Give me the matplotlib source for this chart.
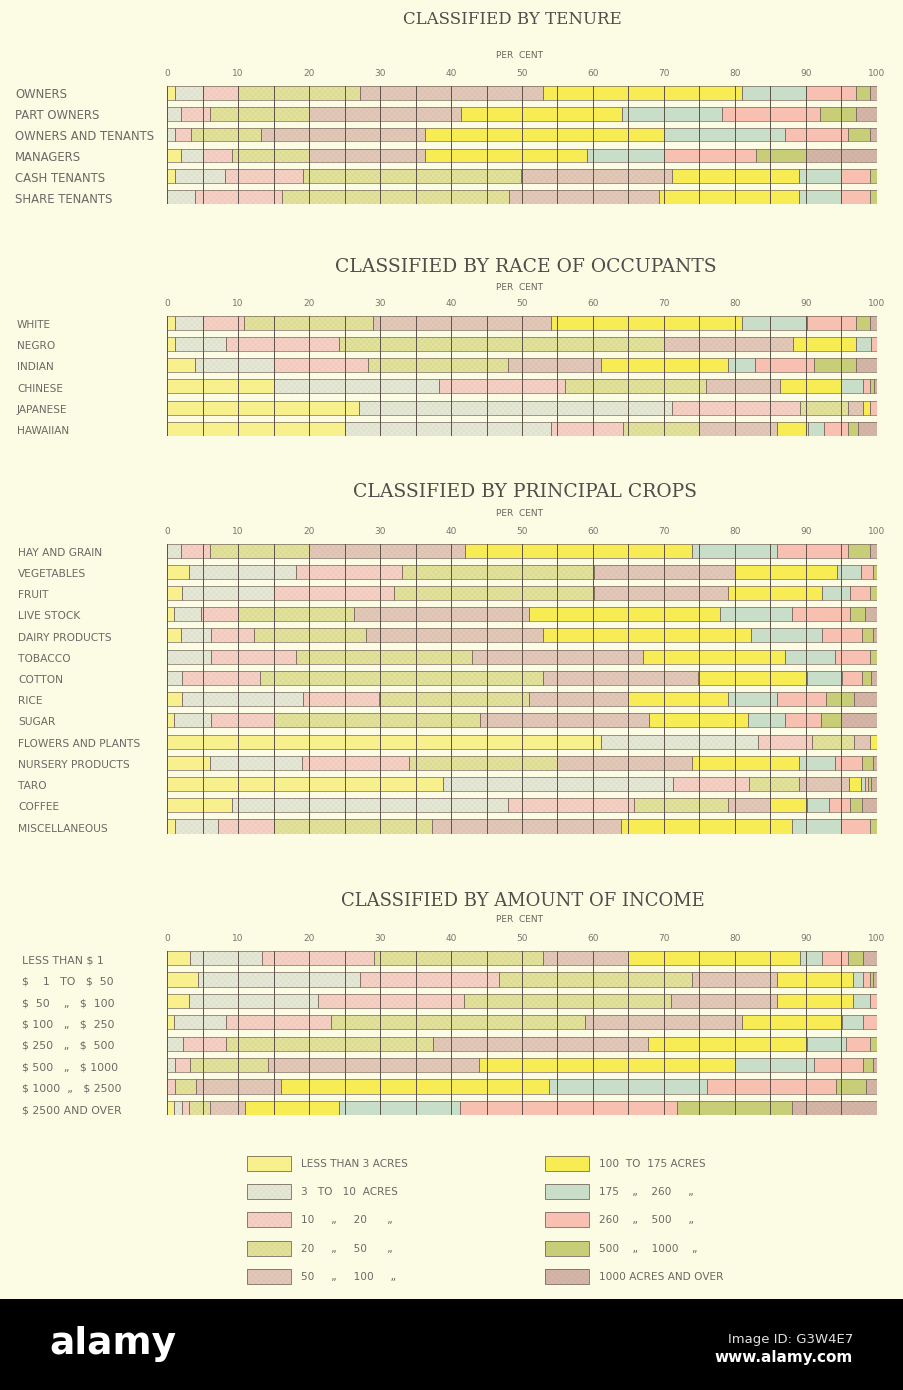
import numpy as np
import matplotlib.pyplot as plt
from matplotlib.colors import to_rgb
from matplotlib.patches import Patch
from matplotlib.ticker import MultipleLocator
from matplotlib.transforms import blended_transform_factory

plt.rcParams["text.parse_math"] = False
plt.rcParams["hatch.linewidth"] = 0.3

W, H = 904, 1390
BG = "#fcfbe4"
GRID = "#5e524a"
EDGE = "#7a6a60"
TXT = "#6a6a66"

# size classes (stacking order)
CLASS_LABELS = [
    "LESS THAN 3 ACRES", "3   TO   10  ACRES", "10     \u201e     20      \u201e",
    "20     \u201e     50      \u201e", "50     \u201e     100     \u201e",
    "100  TO  175 ACRES", "175    \u201e    260     \u201e", "260    \u201e    500     \u201e",
    "500    \u201e    1000    \u201e", "1000 ACRES AND OVER",
]
CLASS_COLORS = [
    "#f8f08c", "#e6e8d6", "#f7d0c4", "#e2e29a", "#e3c8b8",
    "#f8ec55", "#c8dec8", "#f8c0b0", "#c8ce78", "#d5b6a6",
]
# which classes are printed with a fine screen texture
CLASS_HATCH = ["", "xxxxxx", "xxxxxx", "xxxxxx", "xxxxxx", "", "", "", "", "xxxxxx"]

# cumulative per cent at the right end of each class
TENURE_ROWS = ["OWNERS", "PART OWNERS", "OWNERS AND TENANTS", "MANAGERS",
               "CASH TENANTS", "SHARE TENANTS"]
TENURE_ENDS = [
    [1.1, 5.0, 10.0, 27.1, 53.0, 81.0, 90.0, 97.1, 99.1, 100],
    [0, 2.0, 6.1, 20.0, 41.4, 64.1, 78.2, 92.0, 97.1, 100],
    [0, 1.1, 3.4, 13.2, 36.3, 70.0, 87.0, 96.0, 99.1, 100],
    [2.0, 5.0, 9.2, 20.0, 36.3, 59.1, 70.0, 83.0, 90.0, 100],
    [1.1, 8.2, 19.1, 49.9, 71.1, 89.1, 95.0, 99.1, 100, 100],
    [0, 3.9, 16.2, 48.1, 69.3, 89.1, 95.0, 99.1, 100, 100],
]

RACE_ROWS = ["WHITE", "NEGRO", "INDIAN", "CHINESE", "JAPANESE", "HAWAIIAN"]
RACE_ENDS = [
    [1.1, 5.0, 10.8, 29.0, 54.1, 81.0, 90.2, 97.0, 99.1, 100],
    [1.1, 8.3, 24.2, 70.0, 88.2, 97.0, 99.2, 100, 100, 100],
    [3.9, 15.1, 28.3, 48.0, 61.1, 79.1, 82.9, 91.1, 97.0, 100],
    [15.1, 38.3, 56.1, 75.9, 86.3, 95.0, 98.1, 99.0, 99.6, 100],
    [27.0, 71.1, 89.2, 96.0, 98.1, 99.1, 99.1, 100, 100, 100],
    [25.1, 54.1, 64.2, 75.0, 85.9, 90.3, 92.5, 95.9, 97.3, 100],
]

CROP_ROWS = ["HAY AND GRAIN", "VEGETABLES", "FRUIT", "LIVE STOCK", "DAIRY PRODUCTS",
             "TOBACCO", "COTTON", "RICE", "SUGAR", "FLOWERS AND PLANTS",
             "NURSERY PRODUCTS", "TARO", "COFFEE", "MISCELLANEOUS"]
CROP_ENDS = [
    [0, 2.0, 6.05, 20.0, 42.0, 74.0, 85.9, 96.0, 99.1, 100],
    [3.05, 18.1, 33.1, 60.2, 80.0, 94.4, 97.8, 99.45, 100, 100],
    [2.1, 15.1, 31.9, 60.2, 79.0, 92.3, 96.2, 99.1, 100, 100],
    [1.0, 4.8, 10.0, 26.3, 51.0, 77.9, 88.1, 96.2, 98.3, 100],
    [2.0, 6.2, 12.2, 28.0, 52.9, 82.3, 92.3, 97.9, 99.45, 100],
    [0, 6.2, 18.1, 42.9, 67.0, 87.0, 94.1, 99.1, 100, 100],
    [0, 2.1, 13.1, 52.9, 74.8, 90.1, 95.1, 97.9, 99.2, 100],
    [2.1, 19.1, 29.8, 51.0, 65.0, 79.1, 85.9, 92.9, 96.8, 100],
    [1.0, 6.2, 15.1, 44.1, 67.9, 81.9, 87.0, 92.1, 95.0, 100],
    [61.1, 83.2, 90.9, 96.8, 99.1, 100, 100, 100, 100, 100],
    [6.05, 19.0, 34.1, 54.9, 74.0, 89.1, 94.1, 97.9, 99.45, 100],
    [38.9, 71.3, 82.0, 89.1, 96.1, 97.8, 98.3, 98.7, 99.2, 100],
    [9.1, 48.0, 65.8, 79.0, 85.0, 90.1, 93.3, 96.2, 97.9, 100],
    [1.1, 7.1, 15.1, 37.3, 64.0, 88.0, 95.0, 99.0, 100, 100],
]

INCOME_ROWS = ["LESS THAN $ 1", "$    1   TO   $  50", "$  50    \u201e   $  100",
               "$ 100   \u201e   $  250", "$ 250   \u201e   $  500", "$ 500   \u201e   $ 1000",
               "$ 1000  \u201e   $ 2500", "$ 2500 AND OVER"]
INCOME_ENDS = [
    [3.2, 13.4, 29.1, 53.0, 64.9, 89.2, 92.3, 96.0, 98.0, 100],
    [4.3, 27.2, 46.8, 73.9, 86.0, 96.7, 98.0, 99.0, 99.5, 100],
    [3.1, 21.2, 41.8, 71.0, 86.0, 96.7, 99.0, 100, 100, 100],
    [1.0, 8.3, 23.1, 58.9, 81.0, 95.1, 98.0, 100, 100, 100],
    [0, 2.2, 8.25, 37.4, 67.8, 90.2, 95.6, 99.0, 100, 100],
    [0, 1.1, 3.2, 14.2, 44.0, 80.0, 91.2, 98.0, 99.5, 100],
    [0, 0, 1.1, 4.0, 16.1, 53.8, 76.1, 94.2, 98.5, 100],
    [1.0, 2.1, 3.1, 6.1, 11.0, 24.2, 41.3, 71.8, 88.0, 100],
]

BAR_H = 0.66
X0_PX, X1_PX = 166.5, 877.5


def fx(px):
    return px / W


def fy(py):
    return 1 - py / H


def shade(c, f=0.94):
    return tuple(v * f for v in to_rgb(c))


def section(fig, rows, ends, title, top, bottom, title_y, title_x, title_size,
            pct_y, label_x, label_size):
    n = len(rows)
    ax = fig.add_axes([fx(X0_PX), fy(bottom), fx(X1_PX - X0_PX), (bottom - top) / H])
    ax.set_facecolor("none")
    ends = np.array(ends, dtype=float)
    lefts = np.hstack([np.zeros((n, 1)), ends[:, :-1]])
    widths = ends - lefts
    ypos = np.arange(n)
    for k in range(ends.shape[1]):
        m = widths[:, k] > 0
        ax.barh(ypos[m], widths[m, k], left=lefts[m, k], height=BAR_H,
                color=CLASS_COLORS[k], hatch=CLASS_HATCH[k],
                edgecolor=shade(CLASS_COLORS[k]), linewidth=0, zorder=1)
        ax.barh(ypos[m], widths[m, k], left=lefts[m, k], height=BAR_H,
                fill=False, edgecolor=EDGE, linewidth=0.5, zorder=1.2)
    ax.set_xlim(-0.1, 100.1)
    ax.set_ylim(n - 1 + BAR_H / 2, -BAR_H / 2)
    ax.set_xticks(range(0, 101, 10))
    ax.xaxis.set_minor_locator(MultipleLocator(5))
    ax.grid(True, which="both", axis="x", color=GRID, linewidth=0.7)
    ax.set_axisbelow(False)
    ax.set_yticks([])
    ax.tick_params(axis="x", which="both", length=0, top=True, labeltop=True,
                   bottom=False, labelbottom=False, pad=5.5,
                   labelsize=6.5, labelcolor="#777770")
    for s in ax.spines.values():
        s.set_visible(False)

    tr = blended_transform_factory(fig.transFigure, ax.transData)
    for i, name in enumerate(rows):
        ax.text(fx(label_x), i + 0.1, name, transform=tr, ha="left", va="center",
                fontsize=label_size, color=TXT)

    fig.text(fx(title_x), fy(title_y), title, ha="center", va="center",
             family="DejaVu Serif", fontsize=title_size, color="#4e4e4a")
    fig.text(fx(520), fy(pct_y), "PER  CENT", ha="center", va="center",
             fontsize=6.5, color="#666660")
    return ax


fig = plt.figure(figsize=(W / 100, H / 100), dpi=100, facecolor=BG)

section(fig, TENURE_ROWS, TENURE_ENDS, "CLASSIFIED BY TENURE",
        86, 204, 20, 512, 12, 56, 15, 8.4)
section(fig, RACE_ROWS, RACE_ENDS, "CLASSIFIED BY RACE OF OCCUPANTS",
        315.5, 436, 267, 526, 13.5, 287, 17, 7.6)
section(fig, CROP_ROWS, CROP_ENDS, "CLASSIFIED BY PRINCIPAL CROPS",
        543.5, 833.5, 492, 525, 13.5, 514, 18, 7.7)
section(fig, INCOME_ROWS, INCOME_ENDS, "CLASSIFIED BY AMOUNT OF INCOME",
        951, 1115, 901, 523, 13, 920, 22, 7.8)

# legend, two columns
handles = [(Patch(facecolor=c, hatch=h, edgecolor=shade(c), linewidth=0),
            Patch(fill=False, edgecolor=EDGE, linewidth=0.6))
           for c, h in zip(CLASS_COLORS, CLASS_HATCH)]
for cols, x_px in ((range(0, 5), 247), (range(5, 10), 545)):
    fig.legend([handles[i] for i in cols], [CLASS_LABELS[i] for i in cols],
               loc="upper left", bbox_to_anchor=(fx(x_px), fy(1156)),
               frameon=False, borderpad=0, borderaxespad=0,
               fontsize=7.6, labelcolor=TXT, handlelength=4.17, handleheight=1.81,
               handletextpad=0.95, labelspacing=1.25)

# stock-image banner at the bottom
bax = fig.add_axes([0, 0, 1, 91 / H])
bax.set_facecolor("black")
bax.set_xticks([])
bax.set_yticks([])
for s in bax.spines.values():
    s.set_visible(False)
bax.text(49 / W, 0.5, "alamy", transform=bax.transAxes, ha="left", va="center",
         color="white", fontsize=27, fontweight="bold",
         family=["Liberation Sans Narrow", "DejaVu Sans"])
bax.text(853 / W, 0.55, "Image ID: G3W4E7", transform=bax.transAxes, ha="right",
         va="center", color="#e0e0e0", fontsize=9.5)
bax.text(853 / W, 0.36, "www.alamy.com", transform=bax.transAxes, ha="right",
         va="center", color="white", fontsize=11, fontweight="bold")

fig.savefig("out.png", dpi=100, facecolor=BG)
